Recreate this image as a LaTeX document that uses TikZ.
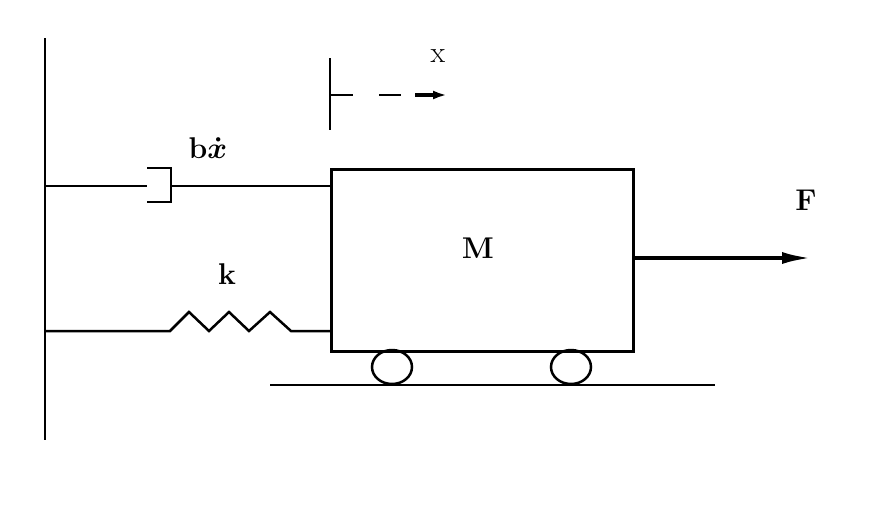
\documentclass[tikz,border=0pt]{standalone}
\usepackage{fix-cm}
\usepackage{amsmath}
\usetikzlibrary{arrows.meta}
\begin{document}
\begin{tikzpicture}[x=1pt,y=-1pt,line width=2.5pt,
  lab/.style={font=\fontsize{30}{32}\selectfont\bfseries}]
\useasboundingbox (0,0) rectangle (895,515);
\draw (45,38) -- (45,440);
% mass
\node[draw,line width=2.5pt,minimum width=302pt,minimum height=182pt,inner sep=0,anchor=north west] (M) at (330,168) {};
\node[lab] (Ml) at (478,248) {M};
% damper
\coordinate (w1) at (45,186);
\draw (w1) -- (147,186);
\draw (147,168) -- (171,168) -- (171,202) -- (147,202);
\draw (171,186) -- (M.west |- 0,186);
\node[lab] (bx) at (208,148) {b$\boldsymbol{\dot{x}}$};
% spring
\coordinate (w2) at (45,331);
\draw (w2) -- (170,331) -- (189,312) -- (209,331) -- (229,312) -- (249,331) -- (270,312) -- (291,331) -- (M.west |- 0,331);
\node[lab] (k) at (227,274) {k};
% wheels and ground
\draw (392,367) ellipse [x radius=20, y radius=17];
\draw (571,367) ellipse [x radius=20, y radius=17];
\draw (270,385) -- (715,385);
% x marker
\draw (330,58) -- (330,130);
\draw (330,95) -- (353,95);
\draw (379,95) -- (401,95);
\draw[line width=4pt,-{Latex[length=14pt,width=9pt]}] (415,95) -- (447,95);
\node[font=\fontsize{30}{32}\selectfont] (xl) at (438,56) {x};
% force
\draw[line width=4pt,-{Latex[length=30pt,width=12pt]}] (M.east |- 0,258) -- (812,258);
\node[lab] (F) at (806,200) {F};
\end{tikzpicture}
\end{document}
